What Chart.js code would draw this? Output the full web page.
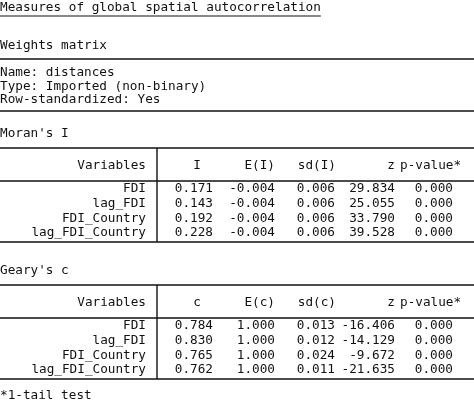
<!DOCTYPE html>
<html><head><meta charset="utf-8">
<script src="https://cdn.jsdelivr.net/npm/chart.js"></script>
<style>html,body{margin:0;padding:0;background:#fff}#w{width:474px;height:401px}</style>
</head><body><div id="w"><canvas id="c"></canvas></div>
<script>
const title = "Measures of global spatial autocorrelation";
const weightsInfo = ["Name: distances", "Type: Imported (non-binary)", "Row-standardized: Yes"];
const variables = ["FDI", "lag_FDI", "FDI_Country", "lag_FDI_Country"];
const moranHeader = ["Variables", "I", "E(I)", "sd(I)", "z", "p-value*"];
const moranI = ["0.171", "0.143", "0.192", "0.228"];
const moranE = ["-0.004", "-0.004", "-0.004", "-0.004"];
const moranSd = ["0.006", "0.006", "0.006", "0.006"];
const moranZ = ["29.834", "25.055", "33.790", "39.528"];
const moranP = ["0.000", "0.000", "0.000", "0.000"];
const gearyHeader = ["Variables", "c", "E(c)", "sd(c)", "z", "p-value*"];
const gearyC = ["0.784", "0.830", "0.765", "0.762"];
const gearyE = ["1.000", "1.000", "1.000", "1.000"];
const gearySd = ["0.013", "0.012", "0.024", "0.011"];
const gearyZ = ["-16.406", "-14.129", "-9.672", "-21.635"];
const gearyP = ["0.000", "0.000", "0.000", "0.000"];
const footnote = "*1-tail test";

const FONT = '12.7px "DejaVu Sans Mono", monospace';
const colR = [146, 213, 275, 335, 395, 453];
function table(ctx, y0, header, cols) {
  ctx.textAlign = 'right';
  ctx.fillText(header[0], colR[0], y0 + 18);
  ctx.textAlign = 'center';
  ctx.fillText(header[1], 197, y0 + 18);
  ctx.textAlign = 'right';
  ctx.fillText(header[2], 275, y0 + 18);
  ctx.fillText(header[3], 336, y0 + 18);
  ctx.textAlign = 'center';
  ctx.fillText(header[4], 391, y0 + 18);
  ctx.textAlign = 'left';
  ctx.fillText(header[5], 400, y0 + 18);
  hline(ctx, y0); hline(ctx, y0 + 33);
  ctx.beginPath(); ctx.moveTo(157, y0); ctx.lineTo(157, y0 + 94); ctx.stroke();
  for (let i = 0; i < variables.length; i++) {
    const y = y0 + 41 + i * 14.6;
    ctx.textAlign = 'right';
    ctx.fillText(variables[i], colR[0], y);
    cols.forEach((c, j) => ctx.fillText(c[i], colR[j + 1], y));
  }
  hline(ctx, y0 + 94);
}
function hline(ctx, y) {
  ctx.beginPath(); ctx.moveTo(0, y); ctx.lineTo(474, y); ctx.stroke();
}
const textPlugin = {
  id: 'textTable',
  afterDraw(chart) {
    const ctx = chart.ctx;
    ctx.save();
    ctx.fillStyle = '#111'; ctx.strokeStyle = '#111'; ctx.lineWidth = 1.4;
    ctx.font = FONT; ctx.textBaseline = 'middle'; ctx.textAlign = 'left';
    ctx.fillText(title, 0, 8);
    ctx.beginPath(); ctx.moveTo(0, 16); ctx.lineTo(ctx.measureText(title).width, 16); ctx.lineWidth = 1; ctx.stroke();
    ctx.lineWidth = 1.4;
    ctx.fillText("Weights matrix", 0, 46);
    hline(ctx, 59);
    weightsInfo.forEach((t, i) => ctx.fillText(t, 0, 73 + i * 13.2));
    hline(ctx, 111);
    ctx.fillText("Moran's I", 0, 134);
    table(ctx, 148, moranHeader, [moranI, moranE, moranSd, moranZ, moranP]);
    ctx.textAlign = 'left';
    ctx.fillText("Geary's c", 0, 271);
    table(ctx, 285, gearyHeader, [gearyC, gearyE, gearySd, gearyZ, gearyP]);
    ctx.textAlign = 'left';
    ctx.fillText(footnote, 0, 396);
    ctx.restore();
  }
};
new Chart(document.getElementById('c'), {
  type: 'scatter',
  data: { datasets: [{ data: [] }] },
  options: {
    responsive: true, maintainAspectRatio: false, animation: false,
    layout: { padding: 0 },
    plugins: { legend: { display: false }, tooltip: { enabled: false } },
    scales: { x: { display: false }, y: { display: false } }
  },
  plugins: [textPlugin]
});
</script></body></html>
